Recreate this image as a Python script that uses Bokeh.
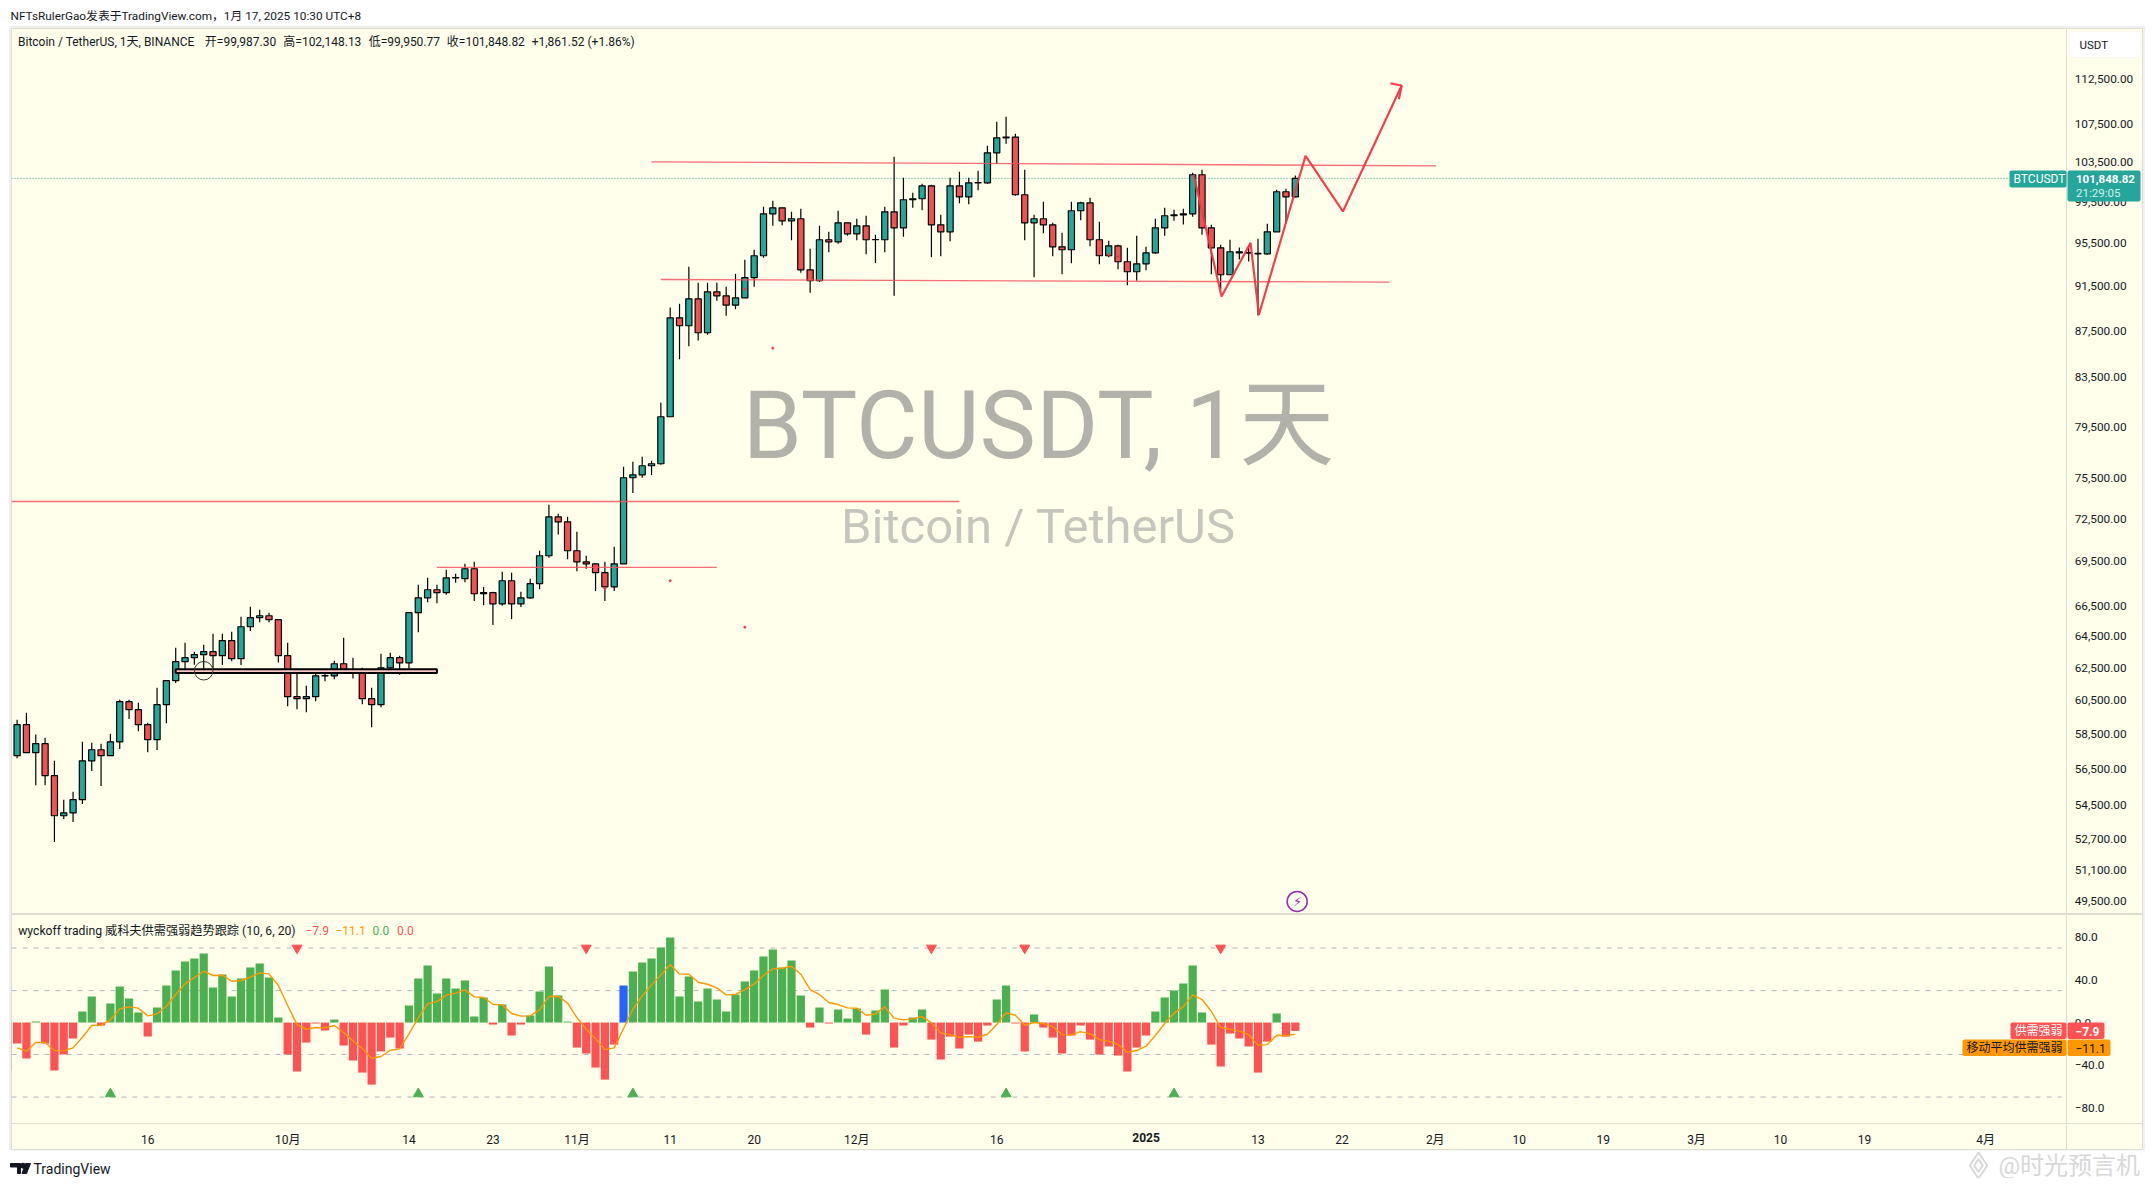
from bokeh.plotting import figure
from bokeh.layouts import column
from bokeh.models import (Label, BoxAnnotation, Range1d, FixedTicker,
                          NumeralTickFormatter, ColumnDataSource)
from bokeh.embed import file_html
from bokeh.resources import INLINE

# ---------- data ----------
opens = [57250,59050,57420,57940,56120,53920,54080,54790,56960,57590,
         57250,58050,60420,59940,59050,58170,60240,61700,62880,63130,
         63320,63510,63260,64210,63070,65110,65700,65830,65570,63260,
         60720,60600,60720,62000,62000,62750,62250,62310,60600,60240,
         62500,63130,62810,66030,67020,67560,67360,68370,68310,68990,
         67290,67360,66620,68170,66620,67020,67970,69890,72660,72300,
         70240,69470,69330,68720,67760,69330,75550,75770,76460,76610,
         80290,88620,87920,90320,87310,90950,90590,89750,90410,92240,
         94280,98310,98900,97630,97830,92970,91960,95800,95600,97430,
         96370,97140,95800,95800,98510,96950,99700,99800,101100,97240,
         96560,101100,99990,101400,101400,104480,106060,106140,100200,97430,
         97830,97240,95130,94850,98610,99400,95800,94280,95220,93720,
         92790,93530,94560,96950,98120,98200,98310,102220,96950,95030,
         92510,94560,94570,94460,94460,96560,100500,99987.30]
highs = [59340,59760,58480,58290,56960,54790,55230,58050,58000,57940,
         58520,60540,60540,60360,59160,61270,61700,63760,64080,63510,
         63950,64660,64660,64790,65760,66420,66220,66030,65600,64080,
         62440,61390,62310,62380,62940,64400,63130,62500,61270,63380,
         63450,63260,66030,67900,68370,67900,68920,68650,69340,69470,
         67740,67420,68780,68720,67420,68310,70240,73540,72880,72660,
         71580,69890,69330,69470,70520,76380,76760,77150,76840,81420,
         89540,89870,93250,91770,91770,91770,91400,92600,93900,94850,
         99000,99600,98900,98510,98800,94940,97140,96560,98610,97430,
         97830,98120,96270,99000,104070,101910,100390,101300,101200,98220,
         101910,102520,101910,102620,105210,107760,108300,106480,102720,98220,
         99500,97430,96470,99500,99500,99900,97530,95700,95320,95030,
         96180,95130,97830,98900,98710,98800,102420,102720,97240,95320,
         95800,95060,95250,95890,97330,100700,100800,102148.13]
lows = [57110,57420,55590,55590,52520,53740,53580,54550,56380,55540,
        57250,57630,59380,58670,57450,57570,59140,61550,62440,62690,
        62440,62440,62670,62910,62670,64830,65410,65410,62830,60150,
        59970,59790,60450,61670,61790,62130,61840,60270,58900,60090,
        62440,62070,62440,64760,66730,66660,67220,68030,68070,66800,
        66530,65220,66490,65610,66400,66960,67600,69750,71390,69650,
        68820,68990,67470,66800,67470,69330,74400,75550,75750,76530,
        80290,85040,86150,86640,87130,90140,88800,89380,90410,91410,
        94090,97140,97200,95760,92690,90860,91860,94620,95410,96180,
        95760,94430,93590,94620,90590,96080,98900,98670,94150,94240,
        95660,99360,99260,100660,101300,103340,105420,100100,95760,92290,
        96430,94240,92560,93590,97690,95180,93490,94150,93030,91550,
        91960,92930,94460,96180,97630,97270,98020,96270,92560,91160,
        92510,93930,93740,88830,94370,96560,97400,99950.77]
closes = [59050,57420,57940,56120,53920,54080,54790,56960,57590,57250,
          58050,60420,59940,59050,58170,60240,61700,62880,63130,63320,
          63510,63260,64210,63070,65110,65700,65830,65570,63260,60720,
          60600,60720,62000,62020,62750,62250,62310,60600,60240,62500,
          63130,62810,66030,67020,67560,67360,68370,68390,68990,67290,
          67360,66620,68170,66620,67020,67970,69890,72660,72300,70240,
          69470,69330,68720,67760,69330,75550,75770,76460,76610,80290,
          88620,87920,90320,87310,90950,90590,89750,90410,92240,94280,
          98310,98900,97630,97830,92970,91960,95800,95600,97430,96370,
          97140,95800,95820,98510,96950,99700,99800,101100,97240,96560,
          101100,99990,101400,101420,104480,106060,106140,100200,97430,97830,
          97240,95130,94850,98610,99400,95800,94280,95220,93720,92790,
          93530,94560,96950,98120,98200,98310,102220,96950,95030,92510,
          94660,94660,94530,94500,96560,100500,99990,101848.82]

# oscillator, first value is the bar cut by the left edge (day -1)
strength = [-45.1,
  -19.7,-33.8,0.9,-19.7,-45.1,-30.1,-15,10.3,24.4,-2.8,
  17.9,33.8,22.5,9.4,-13.2,14.1,34.8,48.9,57.3,60.1,
  64.8,32.9,45.1,24.4,41.3,51.7,55.4,42.3,4.7,-30.1,
  -46,-18.8,-0.9,-7.5,2.8,-21.6,-35.7,-47,-58.3,-27.2,
  -14.1,-24.4,16,41.3,53.6,27.2,41.3,31.9,39.5,5.6,
  23.5,-1.9,16.9,-12.2,-1.9,6.6,29.1,52.6,25.4,0.9,
  -23.5,-29.1,-42.3,-53.6,-20.7,34.8,47.9,56.4,60.1,70.5,
  79.9,24.4,43.2,19.7,31.9,21.6,10.3,26.3,38.5,48.9,
  62,68.6,51.7,58.3,25.4,-4.7,14.1,-0.9,12.2,3.8,
  13.2,-11.3,11.3,31,-23.5,-2.8,4.7,12.2,-16,-34.8,
  -13.2,-24.4,-11.3,-17.9,-2.8,21.6,34.8,-0.9,-27.2,7.5,
  -4.7,-14.1,-29.1,-12.2,-2.8,-16,-30.1,-22.5,-31,-46,
  -23.5,-12.2,10.3,23.5,30.1,36.6,53.6,9.4,-20.7,-41.3,
  -10.3,-15,-22.5,-47,-17.9,8.5,-13.2,-7.9]
strength_ma = [-23.8,-26.9,-18.8,-18.8,-26.3,-26.6,-23.8,-13.8,-2.8,-2.5,
  2.5,12.8,14.7,13.5,6.3,8.1,15.3,26.3,36.3,42.3,
  48.2,44.2,44.5,38.8,39.5,42.6,46.7,45.7,34.8,16,
  -1.9,-6.3,-4.7,-5,-2.8,-9.4,-17.2,-24.4,-33.5,-31.9,
  -26,-24.7,-10.6,4.4,17.5,19.7,25.7,27.6,30.7,24.1,
  23.5,17.2,16.6,8.5,6,6.3,11.9,24.4,24.7,18.2,
  4.7,-6.3,-15.3,-25.4,-23.8,-5.6,12.5,25,35.4,44.8,
  54.2,45.7,45.4,37.9,36,32.6,26,26.3,31,36.3,
  44.2,50.4,51,52.9,45.4,31,26.3,18.8,16.9,13.8,
  13.5,6.9,8.1,14.7,4.1,2.5,3.4,5.6,-0.3,-9.7,
  -11.3,-13.8,-13.2,-13.8,-11,-1.9,9.1,6.9,-2.5,0,
  -0.9,-3.8,-11.3,-11.6,-8.5,-10.6,-16,-17.5,-20.7,-27.9,
  -26.3,-22.2,-12.2,-0.9,8.8,15,26,21.6,10.6,-4.7,
  -6.3,-8.1,-11.3,-21.3,-20.7,-11.9,-12.2,-11.1]
special_bar_days = [65]
buy_days = [10, 43, 66, 106, 124]
sell_days = [30, 61, 98, 108, 129]
buy_level, sell_level = -67, 70
osc_levels = [70, 30, -30, -70]

# drawings made on the chart: day index and price
line_days = [[68.0, 152.1], [69.0, 147.1], [-0.6, 101.0], [45.0, 75.0]]
line_prices = [[103550, 103130], [92075, 91830], [73780, 73780], [69090, 69090]]
box_days = [17, 45]
box_prices = [62400, 62170]
circle_day, circle_price = 20, 62314
zig_days = [126.1, 129.1, 132.2, 133.1, 138.1, 142.1, 148.4]
zig_prices = [102215, 90530, 95510, 88890, 104170, 98540, 111740]
head_days = [147.2, 148.4, 148.1]
head_prices = [111970, 111740, 110210]
dot_days = [70, 78, 81, 63, 78, 117, 118]
dot_prices = [68170, 65080, 85980, 67650, 91190, 94400, 94200]

price_ticks = [112500,107500,103500,99500,95500,91500,87500,83500,79500,75500,72500,
               69500,66500,64500,62500,60500,58500,56500,54500,52700,51100,49500]
osc_ticks = [80, 40, 0, -40, -80]
osc_tick_labels = ["80.0", "40.0", "0.0", "\u221240.0", "\u221280.0"]
time_ticks = [14,29,42,51,60,70,79,90,105,121,133,142,152,161,170,180,189,198,211]
time_labels = ["16","10月","14","23","11月","11","20","12月","16","","13","22","2月","10","19","3月","10","19","4月"]
last_price = 101848.82

# ---------- style ----------
BG = "#FFFFEB"
TEAL = "#26A69A"
RED = "#EF5350"
GREEN_BAR = "#4CAF50"
RED_BAR = "#FF5252"
BLUE_BAR = "#2962FF"
ORANGE = "#FF9800"
DIVIDER = "#DEDED0"
TXT = "#131722"
FONT = "Roboto, 'Noto Sans CJK SC', sans-serif"
W_IN = 2132

days = list(range(len(opens)))
XR = (-0.6, 227.91)      # frame runs under the price scale
AXIS_DAY = 219.68        # where the price scale sits
AXIS_OSC = -94.9         # where the time scale sits

def lab(p, text, x, y, size=12, color=TXT, align="left", style="normal", level="overlay", font=FONT):
    p.add_layout(Label(x=x, y=y, x_units="canvas", y_units="canvas", text=text,
                       text_font=font, text_font_size=f"{size}px", text_color=color,
                       text_align=align, text_baseline="middle", text_font_style=style, level=level))

def box(p, l, r, t, b, color, line=None, radius=0):
    p.add_layout(BoxAnnotation(left=l, right=r, top=t, bottom=b,
                               left_units="canvas", right_units="canvas",
                               top_units="canvas", bottom_units="canvas",
                               fill_color=color, fill_alpha=1, line_color=line,
                               border_radius=radius, level="annotation"))

# ---------- header ----------
hd = figure(width=2138, height=20, output_backend="svg", toolbar_location=None,
            x_range=Range1d(0, 2138), y_range=Range1d(20, 0), x_axis_location=None, y_axis_location=None,
            min_border=0, outline_line_color=None, border_fill_color="white", background_fill_color="white")
hd.grid.visible = False
lab(hd, "NFTsRulerGao发表于TradingView.com，1月 17, 2025 10:30 UTC+8", 2, 7, size=11.8)

# ---------- main pane ----------
p = figure(width=W_IN, height=886, output_backend="svg", toolbar_location=None,
           x_range=Range1d(*XR), y_range=Range1d(48860, 118280), y_axis_type="log",
           x_axis_location=None, y_axis_location="right", min_border=0,
           background_fill_color=BG, border_fill_color=BG, outline_line_color=DIVIDER)
p.grid.visible = False
ax = p.yaxis[0]
ax.fixed_location = AXIS_DAY
ax.ticker = FixedTicker(ticks=price_ticks)
ax.formatter = NumeralTickFormatter(format="0,0.00")
ax.axis_line_color = DIVIDER
ax.major_tick_line_color = None
ax.minor_tick_line_color = None
ax.major_label_text_font = FONT
ax.major_label_text_font_size = "11.8px"
ax.major_label_text_color = TXT
ax.major_label_standoff = 2

lab(p, "BTCUSDT, 1天", 1038 - 11, 425 - 28, size=95, color="#B2B2AA", align="center", level="underlay")
lab(p, "Bitcoin / TetherUS", 1038 - 11, 526 - 28, size=49, color="#C6C6BC", align="center", level="underlay")

p.line([XR[0], AXIS_DAY], [last_price, last_price], line_color=TEAL, line_dash=[1, 2], line_width=1)

src = ColumnDataSource(dict(x=days, o=opens, h=highs, l=lows, c=closes,
                            top=[max(a, b) for a, b in zip(opens, closes)],
                            bot=[min(a, b) for a, b in zip(opens, closes)],
                            col=[TEAL if c >= o else RED for o, c in zip(opens, closes)]))
p.segment("x", "h", "x", "l", source=src, line_color="black", line_width=1.2)
p.vbar("x", width=0.66, top="top", bottom="bot", source=src, fill_color="col", line_color="black", line_width=1.2)

for xs, ys in zip(line_days, line_prices):
    p.line(xs, ys, line_color="#F7525F", line_width=1.3, line_alpha=0.85)
p.quad(left=box_days[0], right=box_days[1], top=box_prices[0], bottom=box_prices[1],
       fill_color="#FFC8C8", line_color="black", line_width=2)
p.scatter([circle_day], [circle_price], size=18.5, marker="circle", fill_alpha=0,
          line_color="#333333", line_width=1)
p.line(zig_days, zig_prices, line_color="#F23645", line_width=2.2, line_alpha=0.95)
p.line(head_days, head_prices, line_color="#F23645", line_width=2.2, line_alpha=0.95)
p.scatter(dot_days, dot_prices, size=2, color="#F23645")

# lightning icon
p.scatter([137.2], [49500], size=20, marker="circle", fill_color=BG, line_color="#9C27B0", line_width=1.5)
lab(p, "\u26A1", 1297 - 11, 901 - 28, size=13, color="#9C27B0", align="center", font="DejaVu Sans")

# legend pieces and scale boxes
for txt, px in [("Bitcoin / TetherUS, 1天, BINANCE", 17.5), ("开=99,987.30", 204.3), ("高=102,148.13", 282.8),
                ("低=99,950.77", 368.2), ("收=101,848.82", 446.3), ("+1,861.52 (+1.86%)", 531.2)]:
    lab(p, txt, px - 11, 41.5 - 28, size=12)
box(p, 2069 - 11, 2140 - 11, 31 - 28, 57 - 28, "white", line="#EDEDED", radius=4)
lab(p, "USDT", 2079 - 11, 44 - 28, size=11.5)
box(p, 2009 - 11, 2066 - 11, 170 - 28, 187 - 28, TEAL, radius=2)
lab(p, "BTCUSDT", 2013 - 11, 178.5 - 28, size=12, color="white")
box(p, 2067 - 11, 2140 - 11, 170 - 28, 201 - 28, TEAL, radius=2)
lab(p, "101,848.82", 2075.5 - 11, 178 - 28, size=11.5, color="white", style="bold")
lab(p, "21:29:05", 2075.5 - 11, 192 - 28, size=11.5, color="#D5F0EC")

# ---------- indicator pane ----------
q = figure(width=W_IN, height=236, output_backend="svg", toolbar_location=None,
           x_range=Range1d(*XR), y_range=Range1d(-120.2, 101.5),
           x_axis_location="below", y_axis_location="right", min_border=0,
           background_fill_color=BG, border_fill_color=BG, outline_line_color=DIVIDER)
q.grid.visible = False
ya = q.yaxis[0]
ya.fixed_location = AXIS_DAY
ya.ticker = FixedTicker(ticks=osc_ticks)
ya.major_label_overrides = dict(zip(osc_ticks, osc_tick_labels))
ya.axis_line_color = DIVIDER
ya.major_tick_line_color = None
ya.minor_tick_line_color = None
ya.major_label_text_font = FONT
ya.major_label_text_font_size = "11.8px"
ya.major_label_text_color = TXT
ya.major_label_standoff = 2
xa = q.xaxis[0]
xa.fixed_location = AXIS_OSC
xa.ticker = FixedTicker(ticks=time_ticks)
xa.major_label_overrides = dict(zip(time_ticks, time_labels))
xa.axis_line_color = DIVIDER
xa.major_tick_line_color = None
xa.minor_tick_line_color = None
xa.major_label_text_font = FONT
xa.major_label_text_font_size = "12px"
xa.major_label_text_color = TXT
xa.major_label_standoff = 3

for lv in osc_levels:
    q.line([XR[0], 219.15], [lv, lv], line_color="#B2B5BE", line_dash=[5, 6], line_width=1)

bar_days = list(range(-1, len(strength) - 1))
bar_cols = [BLUE_BAR if d in special_bar_days else (GREEN_BAR if v >= 0 else RED_BAR)
            for d, v in zip(bar_days, strength)]
q.vbar(bar_days, width=0.88, top=strength, bottom=0, fill_color=bar_cols, line_color=None)
q.line(days, strength_ma, line_color=ORANGE, line_width=1.4)
q.scatter(buy_days, [buy_level] * len(buy_days), marker="triangle", size=10, color=GREEN_BAR)
q.scatter(sell_days, [sell_level] * len(sell_days), marker="inverted_triangle", size=10, color=RED_BAR)

q.add_layout(Label(x=121, y=1136.7 - 914, x_units="data", y_units="canvas", text="2025",
                   text_font=FONT, text_font_size="12px", text_font_style="bold", text_color=TXT,
                   text_align="center", text_baseline="middle"))

lab(q, "wyckoff trading 威科夫供需强弱趋势跟踪 (10, 6, 20)", 17.7 - 11, 930 - 914, size=12.2)
lab(q, "\u22127.9", 305 - 11, 930 - 914, size=12, color=RED_BAR)
lab(q, "\u221211.1", 335 - 11, 930 - 914, size=12, color=ORANGE)
lab(q, "0.0", 372 - 11, 930 - 914, size=12, color=GREEN_BAR)
lab(q, "0.0", 396.5 - 11, 930 - 914, size=12, color=RED_BAR)

box(q, 2010 - 11, 2066 - 11, 1022 - 914, 1038.5 - 914, RED_BAR, radius=2)
box(q, 2067 - 11, 2104 - 11, 1022 - 914, 1038.5 - 914, RED_BAR, radius=2)
lab(q, "供需强弱", 2014 - 11, 1030.5 - 914, size=12, color="white")
lab(q, "\u22127.9", 2075 - 11, 1030.5 - 914, size=12, color="white", style="bold")
box(q, 1962 - 11, 2066 - 11, 1039 - 914, 1055.5 - 914, ORANGE, radius=2)
box(q, 2067 - 11, 2110 - 11, 1039 - 914, 1055.5 - 914, ORANGE, radius=2)
lab(q, "移动平均供需强弱", 1966 - 11, 1047.5 - 914, size=12, color=TXT)
lab(q, "\u221211.1", 2075 - 11, 1047.5 - 914, size=12, color=TXT)

# ---------- footer ----------
ft = figure(width=2138, height=28, output_backend="svg", toolbar_location=None,
            x_range=Range1d(0, 2138), y_range=Range1d(28, 0), x_axis_location=None, y_axis_location=None,
            min_border=0, outline_line_color=None, border_fill_color="white", background_fill_color="white")
ft.grid.visible = False
ft.patch([2, 12, 12, 9, 9, 6, 6, 2], [13, 13, 23, 23, 16.5, 16.5, 16.5, 16.5], color=TXT)
ft.scatter([14.5], [15.2], size=5, marker="circle", color=TXT)
ft.patch([17, 22, 18, 13.5], [13, 13, 23, 23], color=TXT)
lab(ft, "TradingView", 25, 18.5, size=14)
ft.scatter([1970], [15], size=26, marker="diamond", fill_alpha=0, line_color="#D8D8D8", line_width=2)
ft.scatter([1970], [15], size=13, marker="diamond", fill_alpha=0, line_color="#D8D8D8", line_width=2)
lab(ft, "@时光预言机", 1990, 15, size=24, color="#D8D8D8")

inner = column(p, q, spacing=0, margin=(0, 0, 0, 3),
               styles={"box-shadow": "0 0 0 2px #F0F0F0"})
page = column(hd, inner, ft, spacing=0, margin=(8, 0, 0, 8))
open("out.html", "w").write(file_html(page, INLINE))
